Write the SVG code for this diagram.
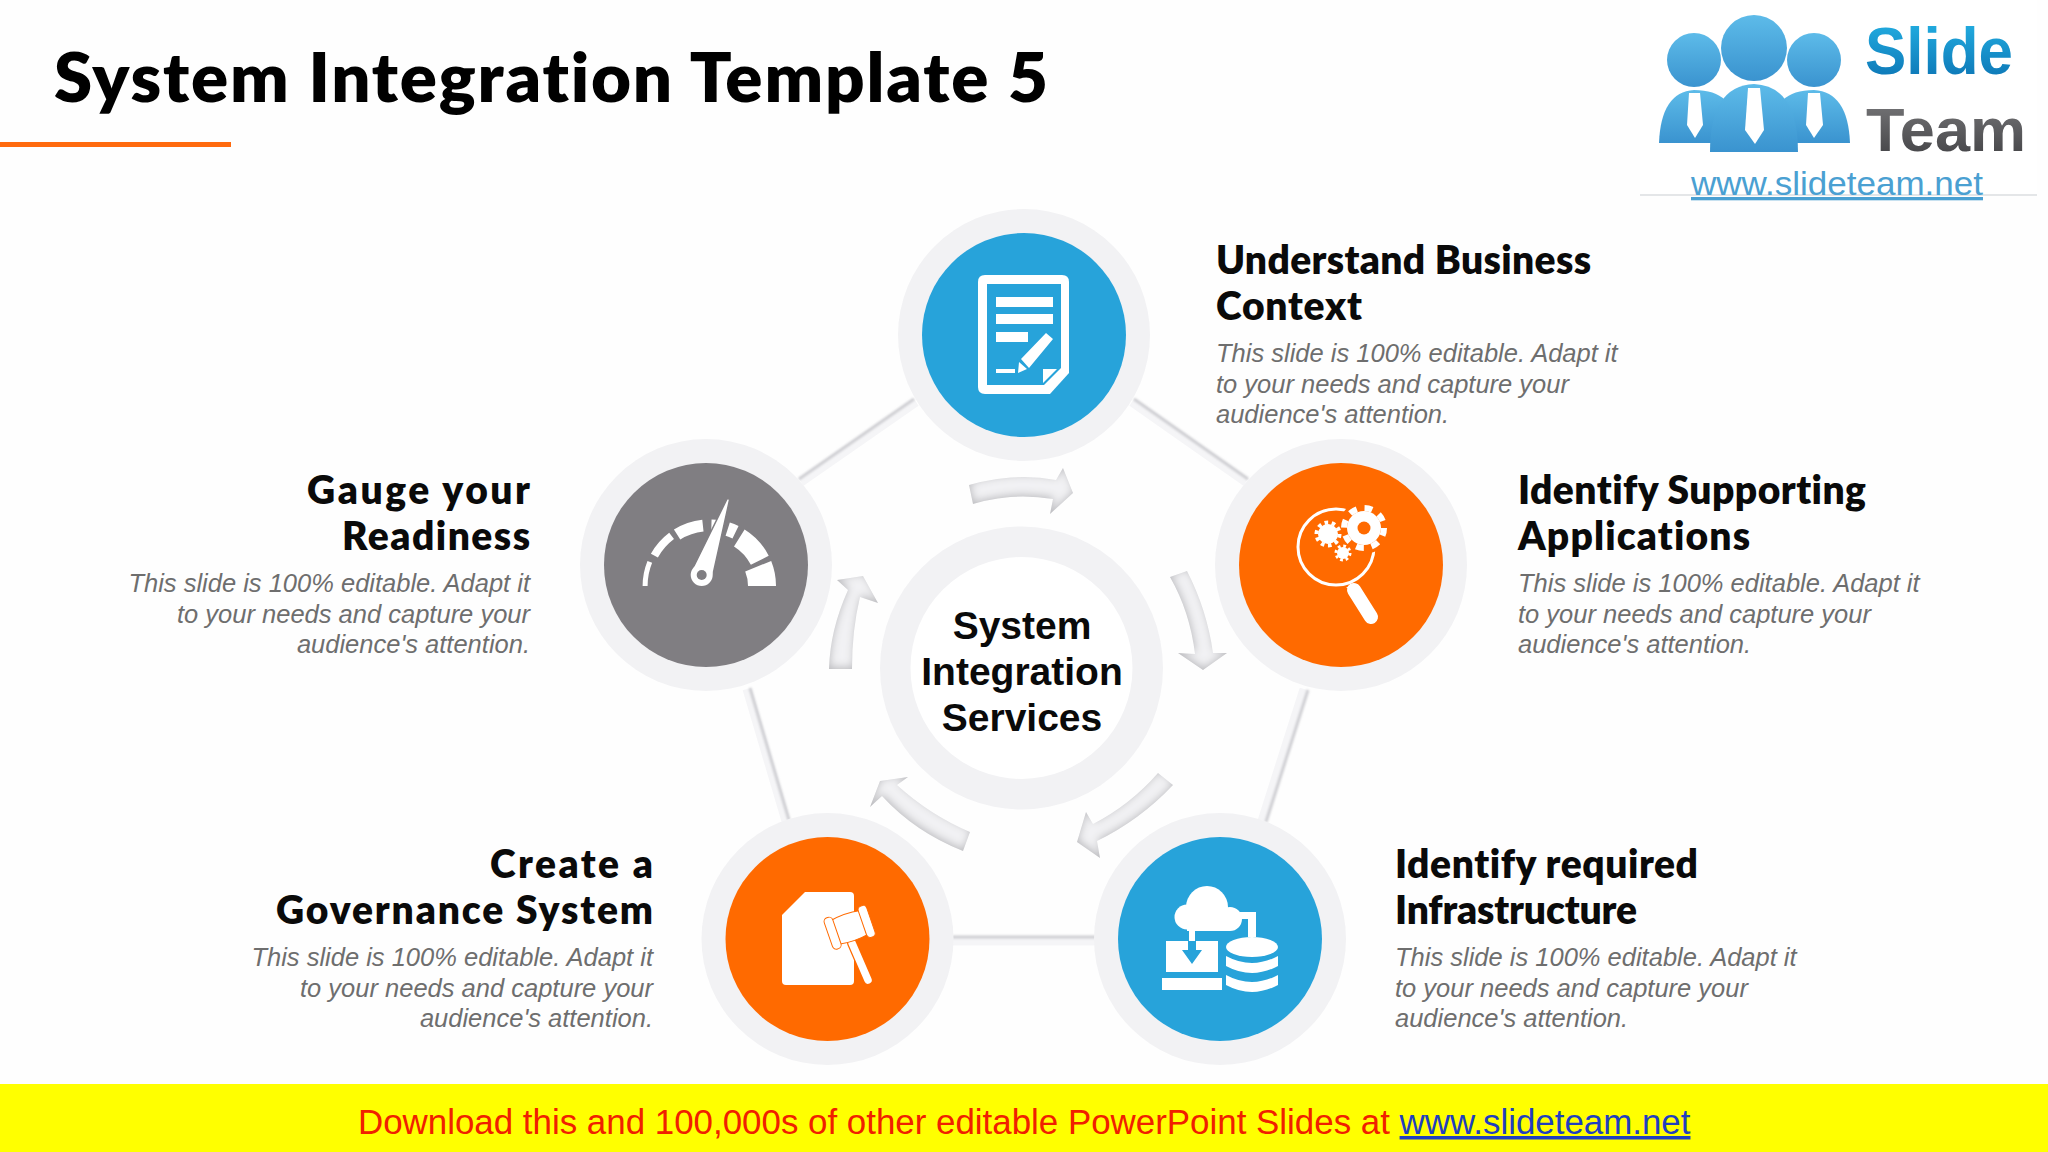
<svg xmlns="http://www.w3.org/2000/svg" width="2048" height="1152" viewBox="0 0 2048 1152">
<style>
text{font-variant-ligatures:none}
.ring{fill:#f2f2f4}
.blue{fill:#27a3da}
.orange{fill:#ff6a00}
.gray{fill:#807e82}
.w{fill:#fff}
.h{font-family:"Lato","Liberation Sans",sans-serif;font-weight:800;font-size:39px;fill:#0a0a0a}
.b{font-family:"Liberation Sans",Arial,sans-serif;font-style:italic;font-size:25.5px;fill:#6e6e6e}
.c{font-family:"Liberation Sans",Arial,sans-serif;font-weight:700;font-size:39px;fill:#0a0a0a;text-anchor:middle}
.e{text-anchor:end}
.band{stroke:#f5f5f7;stroke-width:9;fill:none}
.crest{stroke:#cfcfd3;stroke-width:3;fill:none;filter:url(#soft)}
.arrow{fill:#f2f2f4;filter:url(#bev)}
</style>
<defs>
<filter id="bev" x="-20%" y="-20%" width="140%" height="140%">
<feGaussianBlur in="SourceAlpha" stdDeviation="4" result="b"/>
<feOffset in="b" dx="1" dy="-2" result="o"/>
<feComposite in="SourceAlpha" in2="o" operator="out" result="ed"/>
<feFlood flood-color="#a8a8ac" flood-opacity=".8"/>
<feComposite in2="ed" operator="in" result="s"/>
<feMerge><feMergeNode in="SourceGraphic"/><feMergeNode in="s"/></feMerge>
</filter>
<filter id="soft" x="-20%" y="-20%" width="140%" height="140%" filterUnits="userSpaceOnUse"><feGaussianBlur stdDeviation="1.200"/></filter>
<linearGradient id="lb" x1="0" y1="0" x2="0" y2="1"><stop offset="0" stop-color="#5dbbe9"/><stop offset="1" stop-color="#3a93cf"/></linearGradient>
<linearGradient id="ls" x1="0" y1="0" x2="0" y2="1"><stop offset="0" stop-color="#25b4e6"/><stop offset="1" stop-color="#0a6fb0"/></linearGradient>
<linearGradient id="lt" x1="0" y1="0" x2="0" y2="1"><stop offset="0" stop-color="#7a7a7c"/><stop offset="1" stop-color="#3f3f42"/></linearGradient>
</defs>
<rect width="2048" height="1152" fill="#fefefe"/>
<g id="header">
<text x="54" y="102" font-family="Lato,'Liberation Sans',sans-serif" font-weight="800" font-size="69" fill="#000" textLength="994" lengthAdjust="spacing">System Integration Template 5</text>
<rect x="0" y="142" width="231" height="5" fill="#ff6a0e"/>
</g>
<g id="logo">
<rect x="1640" y="0" width="397" height="195" fill="#fff"/>
<rect x="1640" y="194.500" width="397" height="1" fill="#c9ced2"/>
<path d="M1659 143Q1661 92 1694 90Q1715 90 1725 100L1725 143Z" fill="url(#lb)"/>
<path d="M1850 143Q1848 92 1814 90Q1793 90 1783 100L1783 143Z" fill="url(#lb)"/>
<circle cx="1694" cy="60" r="27" fill="url(#lb)"/>
<circle cx="1814" cy="60" r="27" fill="url(#lb)"/>
<path d="M1710 152Q1710 86 1754 84Q1798 86 1798 152Z" fill="url(#lb)"/>
<circle cx="1754" cy="48" r="33" fill="url(#lb)"/>
<path d="M1689 93H1700L1703 125L1695 138L1687 125Z" class="w"/>
<path d="M1748 88H1760L1764 130L1755 144L1745 130Z" class="w"/>
<path d="M1808 93H1820L1823 125L1814 138L1806 125Z" class="w"/>
<text x="1865" y="74" font-family="'Liberation Sans',Arial,sans-serif" font-weight="700" font-size="66" fill="url(#ls)" textLength="148" lengthAdjust="spacingAndGlyphs">Slide</text>
<text x="1866" y="151" font-family="'Liberation Sans',Arial,sans-serif" font-weight="700" font-size="62" fill="url(#lt)" textLength="160" lengthAdjust="spacingAndGlyphs">Team</text>
<text x="1691" y="195" font-family="'Liberation Sans',Arial,sans-serif" font-size="33" fill="#4aa0d2" text-decoration="underline" textLength="292" lengthAdjust="spacingAndGlyphs">www.slideteam.net</text>
</g>
<g id="connectors">
<path class="band" d="M916 402L801 482M1132 402L1246 482M1304 689L1262 821M952 941H1098M747 689L786 821"/>
<path class="crest" d="M914 399L799 479M1134 399L1248 479M1308 690L1266 822M952 937H1098M750 688L789 820"/>
<path class="arrow" d="M969 485Q1015 472 1056 480L1063 468L1073 493L1050 514L1053 499Q1012 492 973 504Z"/>
<path class="arrow" d="M1170 577L1187 571Q1207 610 1213 653L1227 653L1203 670L1178 653L1195 654Q1190 612 1170 577Z"/>
<path class="arrow" d="M1158 773L1173 785Q1140 820 1097 841L1100 858L1077 842L1086 812L1093 824Q1130 805 1158 773Z"/>
<path class="arrow" d="M970 832Q930 815 897 785L908 777L880 781L870 807L882 796Q915 832 963 851Z"/>
<path class="arrow" d="M829 669H852Q852 630 860 597L878 603L863 576L837 580L848 590Q830 630 829 669Z"/>
</g>
<g id="center">
<circle class="ring" cx="1021.500" cy="668" r="141.500"/>
<circle cx="1021.500" cy="668" r="111" fill="#fff"/>
<text class="c" x="1022" y="639">System</text>
<text class="c" x="1022" y="685">Integration</text>
<text class="c" x="1022" y="731">Services</text>
</g>
<g id="node-understand">
<circle class="ring" cx="1024" cy="335" r="126"/>
<circle class="blue" cx="1024" cy="335" r="102"/>
<path class="w" d="M985 275H1062Q1069 275 1069 282V373L1050 394H985Q978 394 978 387V282Q978 275 985 275Z"/>
<path class="blue" d="M987 284H1061V368L1044 385H987Z"/>
<path class="w" d="M996 297H1053V307H996ZM996 314H1053V324H996ZM996 332H1028V342H996ZM996 369H1015V373H996ZM1021 359L1046 333L1053 339L1029 368ZM1018 373L1019 362L1027 369ZM1043 369H1057L1043 383Z"/>
<text class="h" x="1216" y="274" textLength="375" lengthAdjust="spacing">Understand Business</text>
<text class="h" x="1216" y="320" textLength="146" lengthAdjust="spacing">Context</text>
<text class="b" x="1216" y="362">This slide is 100% editable. Adapt it</text>
<text class="b" x="1216" y="392.700">to your needs and capture your</text>
<text class="b" x="1216" y="423.400">audience's attention.</text>
</g>
<g id="node-identify-apps">
<circle class="ring" cx="1341" cy="565" r="126"/>
<circle class="orange" cx="1341" cy="565" r="102"/>
<circle cx="1336" cy="547" r="38" fill="none" stroke="#fff" stroke-width="3"/>
<path d="M1354 590L1371 617" stroke="#fff" stroke-width="14" stroke-linecap="round"/>
<path d="M1350 585L1346 588L1358 588Z" class="w"/>
<circle class="orange" cx="1364" cy="528" r="26"/>
<circle class="w" cx="1364" cy="528" r="17"/>
<circle cx="1364" cy="528" r="20" fill="none" stroke="#fff" stroke-width="6" stroke-dasharray="7.850 7.850"/>
<circle class="orange" cx="1364" cy="528" r="6.500"/>
<circle class="w" cx="1328" cy="534" r="10"/>
<circle cx="1328" cy="534" r="11.500" fill="none" stroke="#fff" stroke-width="4" stroke-dasharray="3.600 3.600"/>
<circle class="w" cx="1343" cy="553" r="6"/>
<circle cx="1343" cy="553" r="7" fill="none" stroke="#fff" stroke-width="3" stroke-dasharray="2.750 2.750"/>
<text class="h" x="1518" y="504" textLength="348" lengthAdjust="spacing">Identify Supporting</text>
<text class="h" x="1518" y="550" textLength="232" lengthAdjust="spacing">Applications</text>
<text class="b" x="1518" y="592">This slide is 100% editable. Adapt it</text>
<text class="b" x="1518" y="622.700">to your needs and capture your</text>
<text class="b" x="1518" y="653.400">audience's attention.</text>
</g>
<g id="node-identify-infra">
<circle class="ring" cx="1220" cy="939" r="126"/>
<circle class="blue" cx="1220" cy="939" r="102"/>
<circle class="w" cx="1207" cy="907" r="21"/>
<circle class="w" cx="1187" cy="917" r="12.500"/>
<circle class="w" cx="1230" cy="919" r="12"/>
<rect class="w" x="1187" y="910" width="43" height="21"/>
<path class="w" d="M1240 912H1256V937H1248V919H1240ZM1166 941H1218V972H1166ZM1162 978H1222V990H1162ZM1189 931H1195V941H1189Z"/>
<path class="blue" d="M1188 941H1196V950H1202L1192 964L1182 950H1188Z"/>
<ellipse class="w" cx="1252" cy="947" rx="26" ry="10"/>
<path class="w" d="M1226 956Q1252 970 1278 956V966Q1252 980 1226 966ZM1226 975Q1252 989 1278 975V985Q1252 999 1226 985Z"/>
<text class="h" x="1395" y="878" textLength="303" lengthAdjust="spacing">Identify required</text>
<text class="h" x="1395" y="924" textLength="242" lengthAdjust="spacing">Infrastructure</text>
<text class="b" x="1395" y="966">This slide is 100% editable. Adapt it</text>
<text class="b" x="1395" y="996.700">to your needs and capture your</text>
<text class="b" x="1395" y="1027.400">audience's attention.</text>
</g>
<g id="node-governance">
<circle class="ring" cx="827.500" cy="939" r="126"/>
<circle class="orange" cx="827.500" cy="939" r="102"/>
<path class="w" d="M782 915L805 892H850Q854 892 854 896V981Q854 985 850 985H786Q782 985 782 981Z"/>
<path d="M852 943L868 980" stroke="#ff6a00" stroke-width="10" stroke-linecap="round"/>
<path d="M852 943L868 980" stroke="#fff" stroke-width="7.500" stroke-linecap="round"/>
<g transform="rotate(-19 849 927)" class="w" stroke="#ff6a00" stroke-width="1">
<path d="M834 915Q849 912 865 915V940Q849 943 834 940Z"/>
<rect x="827" y="911" width="9" height="33" rx="4"/>
<rect x="863" y="911" width="9" height="33" rx="4"/>
</g>
<text class="h e" x="653" y="878" textLength="163" lengthAdjust="spacing">Create a</text>
<text class="h e" x="653" y="924" textLength="377" lengthAdjust="spacing">Governance System</text>
<text class="b e" x="653" y="966">This slide is 100% editable. Adapt it</text>
<text class="b e" x="653" y="996.700">to your needs and capture your</text>
<text class="b e" x="653" y="1027.400">audience's attention.</text>
</g>
<g id="node-gauge">
<circle class="ring" cx="706" cy="565" r="126"/>
<circle class="gray" cx="706" cy="565" r="102"/>
<g fill="none" stroke="#fff">
<path stroke-width="5" d="M645.100 586A64.200 64.200 0 0 1 649.800 561.900"/>
<path stroke-width="8" d="M654.400 555.600A62.700 62.700 0 0 1 671.600 535.900"/>
<path stroke-width="12" d="M677.100 534.500A60.700 60.700 0 0 1 702.900 525.600"/>
<path stroke-width="13" d="M711.400 525.900A60.200 60.200 0 0 1 719.800 526.700"/>
<path stroke-width="14" d="M727.700 529.200A59.700 59.700 0 0 1 735.500 532.300"/>
<path stroke-width="20" d="M739.300 537.900A56.700 56.700 0 0 1 759.800 560.300"/>
<path stroke-width="28" d="M758.200 566.200A52.700 52.700 0 0 1 762 586"/>
</g>
<path class="w" stroke="#807e82" stroke-width="1.500" d="M692 570L726.500 500Q728 497 729.500 500L712 579Z"/>
<circle class="w" cx="701.700" cy="575" r="11"/>
<circle class="gray" cx="701.700" cy="575" r="5"/>
<text class="h e" x="530" y="504" textLength="223" lengthAdjust="spacing">Gauge your</text>
<text class="h e" x="530" y="550" textLength="188" lengthAdjust="spacing">Readiness</text>
<text class="b e" x="530" y="592">This slide is 100% editable. Adapt it</text>
<text class="b e" x="530" y="622.700">to your needs and capture your</text>
<text class="b e" x="530" y="653.400">audience's attention.</text>
</g>
<g id="banner">
<rect x="0" y="1084" width="2048" height="68" fill="#ffff00"/>
<text x="358" y="1134" font-family="'Liberation Sans',Arial,sans-serif" font-size="34.900" fill="#f02000">Download this and 100,000s of other editable PowerPoint Slides at <tspan fill="#1f3fbf" text-decoration="underline">www.slideteam.net</tspan></text>
</g>
</svg>
